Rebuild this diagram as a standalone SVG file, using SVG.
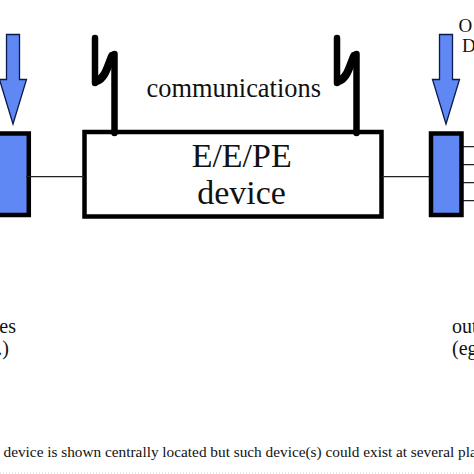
<svg xmlns="http://www.w3.org/2000/svg" width="474" height="474" viewBox="0 0 474 474">
<style>
text{font-family:"Liberation Serif","Times New Roman",serif;fill:#111}
.io{fill:#5f88f5;stroke:#000;stroke-width:4.500}
.arrow{fill:#5f88f5;stroke:#0a1a4a;stroke-width:1.300;stroke-linejoin:miter}
.thin{fill:none;stroke:#222;stroke-width:1.200}
.ant{fill:none;stroke:#000;stroke-width:6.500;stroke-linecap:round;stroke-linejoin:round}
.diag{fill:none;stroke:#000;stroke-width:8;stroke-linecap:round}
</style>
<rect width="474" height="474" fill="#fff"/>
<g id="left-arrow"><path class="arrow" d="M6.500 34.500H19.500V79.500H26.500L13 124L-0.500 79.500H6.500Z"/></g>
<g id="left-block"><rect class="io" x="-6" y="133.500" width="34.800" height="81.500"/></g>
<g id="device">
<rect x="84.500" y="132" width="297" height="84.500" fill="#fff" stroke="#000" stroke-width="4.500"/>
<text x="241.700" y="167.300" font-size="34" text-anchor="middle">E/E/PE</text>
<text x="241.500" y="204" font-size="34" text-anchor="middle">device</text>
</g>
<g id="antenna-left"><path class="ant" d="M114.500 133V54M95 38V83"/><path class="diag" d="M97 81C105 78 107 68 112 56"/></g>
<g id="antenna-right"><path class="ant" d="M356.500 133V54M337 38V83"/><path class="diag" d="M339 81C347 78 349 68 354 56"/></g>
<g id="connectors">
<path class="thin" d="M26 176.700H84M382 176.700H433"/>
<path class="thin" d="M459 146.700H474M459 164.700H474M459 182.700H474M459 200.700H474"/>
</g>
<g id="comm-label"><text x="233.700" y="96.700" font-size="26.400" text-anchor="middle">communications</text></g>
<g id="right-arrow"><path class="arrow" d="M439.500 34.500H452.500V79.500H459.500L446 124L432.500 79.500H439.500Z"/></g>
<g id="right-block"><rect class="io" x="431" y="133.500" width="30.500" height="81.500"/></g>
<g id="labels">
<text x="458.500" y="31.500" font-size="19">O</text>
<text x="462" y="52" font-size="19">D</text>
<text x="16" y="333" font-size="20" text-anchor="end">es</text>
<text x="9" y="355" font-size="20" text-anchor="end">.)</text>
<text x="452" y="333" font-size="20">out</text>
<text x="452" y="355" font-size="20">(eg</text>
<text x="3.500" y="457" font-size="15.300">device is shown centrally located but such device(s) could exist at several pla</text>
</g>
<path d="M0 473H474" stroke="#ccc" stroke-dasharray="1 2" fill="none"/>
</svg>
